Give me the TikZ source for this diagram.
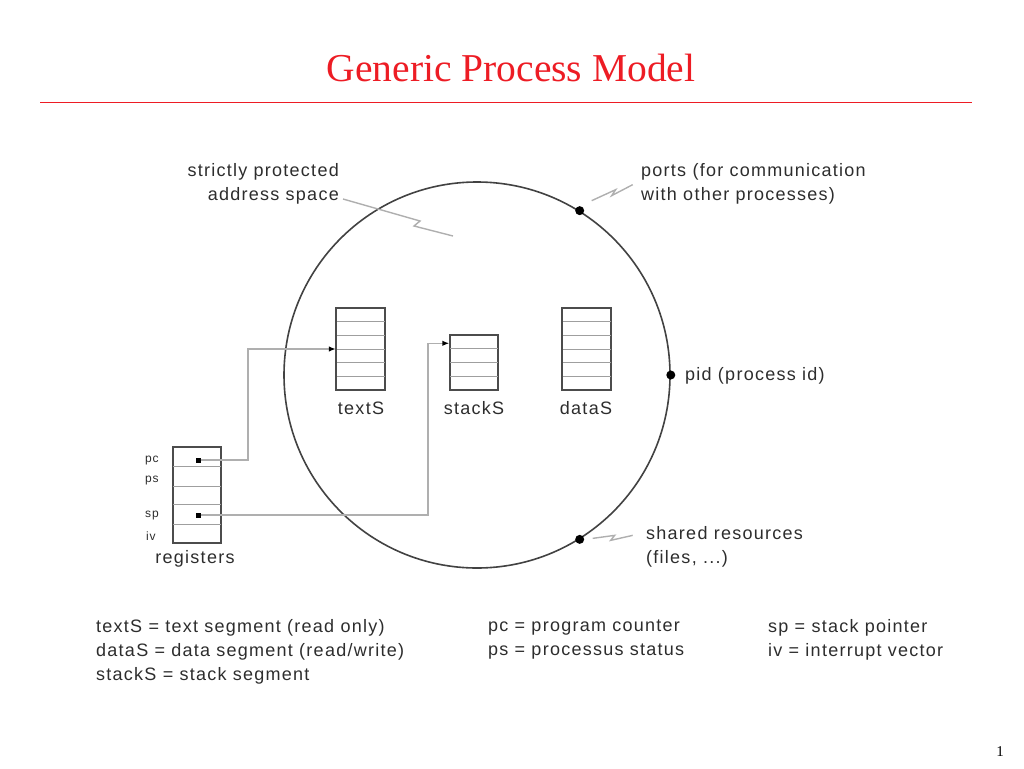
\documentclass[tikz,border=0pt]{standalone}
\usepackage{fontspec}
\setmainfont{Liberation Serif}
\newfontfamily\df[LetterSpace=7]{Liberation Sans}
\usetikzlibrary{calc,arrows.meta}
\definecolor{titlered}{RGB}{237,28,36}
\definecolor{ink}{RGB}{45,45,45}
\definecolor{lead}{RGB}{175,175,175}
\begin{document}
\begin{tikzpicture}[x=1pt,y=-1pt,
 lbl/.style={font=\df\fontsize{18}{20}\selectfont, text=ink, inner sep=0pt},
 lblw/.style={lbl, anchor=west},
 small/.style={font=\df\fontsize{12}{14}\selectfont, text=ink, inner sep=0pt, anchor=west},
 seg/.style={draw=ink!85, line width=1.4pt, fill=white, inner sep=0pt, minimum width=48pt},
 row/.style={draw=gray!75, line width=1pt},
 port/.style={circle, fill=black, inner sep=0pt, minimum size=9pt},
 regdot/.style={rectangle, fill=black, inner sep=0pt, minimum size=5pt},
 wire/.style={draw=lead, line width=1.5pt},
 tip/.style={-{Latex[length=7pt,width=5.5pt,color=black]}},
 leader/.style={draw=lead, line width=1.4pt, line join=miter},
]
\useasboundingbox (0,0) rectangle (1024,768);

% title
\node[font=\fontsize{39.5}{44}\selectfont, text=titlered, inner sep=0pt] (title) at (511,68) {Generic Process Model};
\draw[titlered, line width=1pt] (40,102) -- (972,102);
\node[font=\fontsize{15}{18}\selectfont, inner sep=0pt] (pageno) at (1000,752) {1};

% process circle
\node[circle, draw=ink!90, line width=1.6pt, minimum size=386pt, inner sep=0pt] (proc) at (477,375) {};
\node[port] (ports) at (proc.58.5) {};
\node[port] (pid) at (proc.0) {};
\node[port] (shared) at (proc.-58.2) {};

% segments
\node[seg, minimum height=82pt] (textS) at (360.5,349) {};
\foreach \k in {1,...,5}
  \draw[row] ($(textS.north west)!\k/6!(textS.south west)$) -- ($(textS.north east)!\k/6!(textS.south east)$);
\draw[ink!85, line width=1.4pt] (textS.north west) rectangle (textS.south east);

\node[seg, minimum height=55pt] (stackS) at (474,362.5) {};
\foreach \k in {1,...,3}
  \draw[row] ($(stackS.north west)!\k/4!(stackS.south west)$) -- ($(stackS.north east)!\k/4!(stackS.south east)$);
\draw[ink!85, line width=1.4pt] (stackS.north west) rectangle (stackS.south east);

\node[seg, minimum height=82pt] (dataS) at (586.5,349) {};
\foreach \k in {1,...,5}
  \draw[row] ($(dataS.north west)!\k/6!(dataS.south west)$) -- ($(dataS.north east)!\k/6!(dataS.south east)$);
\draw[ink!85, line width=1.4pt] (dataS.north west) rectangle (dataS.south east);

\node[lbl] (textSl) at (361,408) {textS};
\node[lbl] (stackSl) at (474,408) {stackS};
\node[lbl] (dataSl) at (586,408) {dataS};

% registers
\node[seg, minimum height=96pt] (reg) at (197,495) {};
\foreach \y in {20,40,58,78}
  \draw[row] ($(reg.north west)+(0,\y)$) -- ($(reg.north east)+(0,\y)$);
\draw[ink!85, line width=1.4pt] (reg.north west) rectangle (reg.south east);
\node[small] (pc) at (145,461) {pc};
\node[small] (ps) at (145,481) {ps};
\node[small] (sp) at (145,516) {sp};
\node[small] (iv) at (146,536) {iv};
\node[lbl] (regl) at (195,559) {registers};
\node[regdot] (pcdot) at (198,460) {};
\node[regdot] (spdot) at (198,515) {};

% pointers
\coordinate (stackin) at ($(stackS.north west)+(0,9)$);
\draw[wire, tip] (pcdot) -- ++(50,0) |- (textS.west);
\draw[wire, tip] (spdot) -- ++(230,0) |- (stackin);

% labels with leaders
\node[lbl, anchor=east, align=right] (aspace) at (339,184) {strictly protected\\[4pt]address space};
\draw[leader] ($(aspace.east)+(4,15)$) -- ++(77,22) -- ++(-6,5) -- ++(39,10);

\node[lblw, align=left] (portsl) at (641,184) {ports (for communication\\[4pt]with other processes)};
\draw[leader] ($(ports)+(12,-10)$) -- ++(24,-11) -- ++(-4,6) -- ++(21,-11);

\node[lblw] (pidl) at (685,376) {pid (process id)};

\node[lblw, align=left] (sharedl) at (646,547) {shared resources\\[4pt](files, ...)};
\draw[leader] ($(shared)+(13,-1)$) -- ++(22,-3) -- ++(-4,5) -- ++(22,-5);

% legend
\node[lblw] (l1) at (96,628) {textS = text segment (read only)};
\node[lblw] (l2) at (96,652) {dataS = data segment (read/write)};
\node[lblw] (l3) at (96,676) {stackS = stack segment};
\node[lblw] (l4) at (488,628) {pc = program counter};
\node[lblw] (l5) at (488,652) {ps = processus status};
\node[lblw] (l6) at (768,628) {sp = stack pointer};
\node[lblw] (l7) at (768,652) {iv = interrupt vector};
\end{tikzpicture}
\end{document}
